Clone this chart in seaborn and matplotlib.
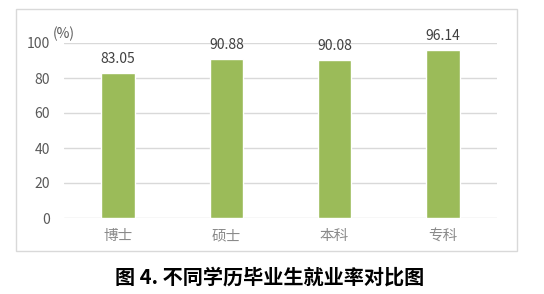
import matplotlib
matplotlib.use("Agg")
import matplotlib.pyplot as plt
import seaborn as sns
import pandas as pd
from matplotlib.patches import Rectangle

categories = ["博士", "硕士", "本科", "专科"]
rates = [83.05, 90.88, 90.08, 96.14]
yticks = [0, 20, 40, 60, 80, 100]
title = "图 4. 不同学历毕业生就业率对比图"

sns.set_theme(style="white")
plt.rcParams['font.family'] = ['Noto Sans CJK SC', 'DejaVu Sans']

df = pd.DataFrame({"cat": categories, "rate": rates})

fig = plt.figure(figsize=(5.44, 2.94), dpi=100)
ax = fig.add_axes([64/544, 1-218/294, (497-64)/544, (218-43)/294])

sns.barplot(data=df, x="cat", y="rate", color="#9BBB59", width=0.31,
            saturation=1, ax=ax, zorder=3)

ax.set_ylim(0, 100)
ax.set_xlim(-0.5, 3.5)
ax.set_yticks(yticks)
ax.set_yticklabels([str(t) for t in yticks], fontsize=10, color="#595959")
ax.tick_params(axis="y", length=0, pad=10)
ax.tick_params(axis="x", length=0, pad=8)
for lbl in ax.get_xticklabels():
    lbl.set_fontsize(10.5)
    lbl.set_color("#8a8a8a")
    lbl.set_fontweight("light")
ax.set_xlabel("")
ax.set_ylabel("")
for s in ax.spines.values():
    s.set_visible(False)
ax.grid(False)
for t in yticks:
    ax.axhline(t, color="#D9D9D9", lw=1.0, zorder=1)

for i, v in enumerate(rates):
    ax.annotate(f"{v:.2f}", (i, v), xytext=(0, 5), textcoords="offset points",
                ha="center", va="bottom", fontsize=10, color="#404040")

fig.text(53/544, 1-34/294, "(%)", fontsize=10, color="#595959", ha="left", va="center")

fig.patches.append(Rectangle((16/544, 1-251/294), (517-16)/544, (251-9)/294,
                             transform=fig.transFigure, fill=False,
                             edgecolor="#D9D9D9", lw=1.0))

fig.text(270/544, 1-277/294, title, fontsize=14.5, fontweight="bold",
         color="black", ha="center", va="center")

fig.savefig("out.png", dpi=100, facecolor="white")
